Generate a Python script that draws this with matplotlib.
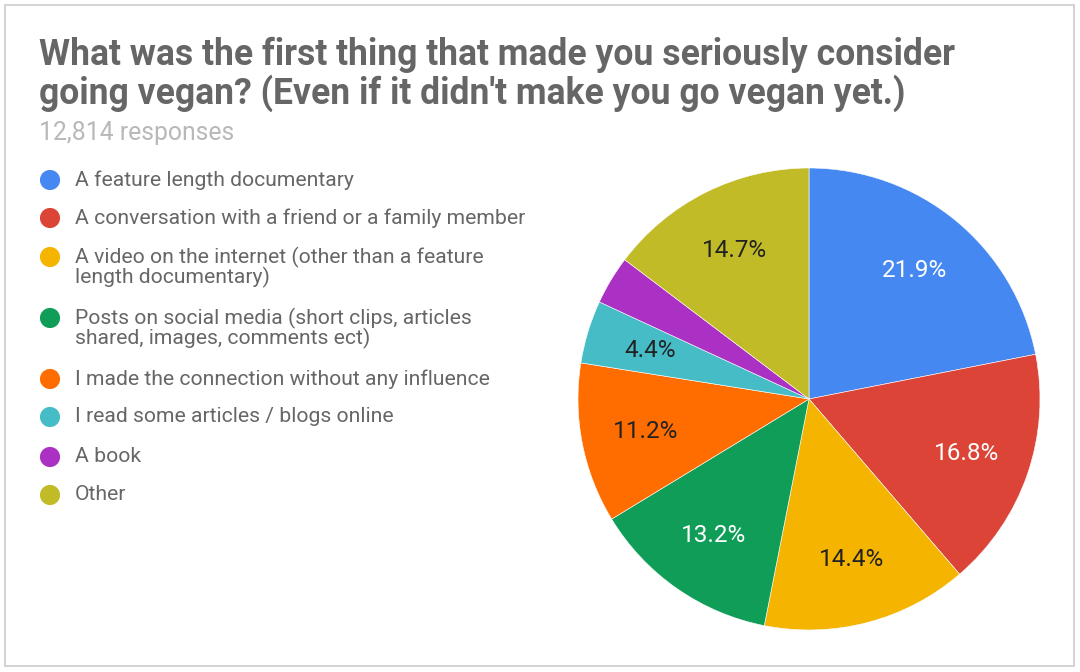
import matplotlib.pyplot as plt
from matplotlib.patches import Rectangle

plt.rcParams['font.family'] = ['Roboto', 'DejaVu Sans']

categories = [
    "A feature length documentary",
    "A conversation with a friend or a family member",
    "A video on the internet (other than a feature\nlength documentary)",
    "Posts on social media (short clips, articles\nshared, images, comments ect)",
    "I made the connection without any influence",
    "I read some articles / blogs online",
    "A book",
    "Other",
]
shares = [21.9, 16.8, 14.4, 13.2, 11.2, 4.4, 3.4, 14.7]
colors = ["#4688f1", "#db4437", "#f4b400", "#0f9d58", "#ff6d00", "#46bdc6", "#ab30c4", "#c2bb28"]
label_colors = ["white", "white", "#222222", "white", "#222222", "#222222", "#222222", "#222222"]

W, H = 1080, 672
fig = plt.figure(figsize=(W / 100, H / 100), dpi=100)

# full-figure axes in pixel coords for the text and legend
bg = fig.add_axes([0, 0, 1, 1])
bg.set_xlim(0, W)
bg.set_ylim(H, 0)
bg.axis("off")
bg.add_patch(Rectangle((5, 5), W - 11, H - 11, fill=False, edgecolor="#cccccc", linewidth=1.2))

bg.text(39, 55, "What was the first thing that made you seriously consider", fontsize=25.6,
        fontweight="bold", color="#666666", va="center", ha="left")
bg.text(39, 93, "going vegan? (Even if it didn't make you go vegan yet.)", fontsize=25.6,
        fontweight="bold", color="#666666", va="center", ha="left")
bg.text(39, 133, "12,814 responses", fontsize=17.8, color="#b8b8b8", va="center", ha="left")

# legend
legend_y = [180, 218, 257, 318, 379, 417, 457, 495]
for lab, c, y in zip(categories, colors, legend_y):
    bg.scatter([50], [y], s=210, color=c, edgecolors="none")
    for k, line in enumerate(lab.split("\n")):
        bg.text(75, y + 20 * k, line, fontsize=15.2, color="#666666", va="center", ha="left")

# pie
cx, cy, r = 809, 399, 231
ax = fig.add_axes([(cx - r) / W, 1 - (cy + r) / H, 2 * r / W, 2 * r / H])
wedges, texts, autotexts = ax.pie(shares, colors=colors, startangle=90, counterclock=False,
                                  autopct="%.1f%%", pctdistance=0.72,
                                  wedgeprops=dict(linewidth=0.4, edgecolor="white"),
                                  textprops=dict(fontsize=17.5))
for t, c in zip(autotexts, label_colors):
    t.set_color(c)
autotexts[6].set_text("")
ax.set_aspect("equal")
ax.set_xlim(-1, 1)
ax.set_ylim(-1, 1)

fig.savefig("out.png", dpi=100)
